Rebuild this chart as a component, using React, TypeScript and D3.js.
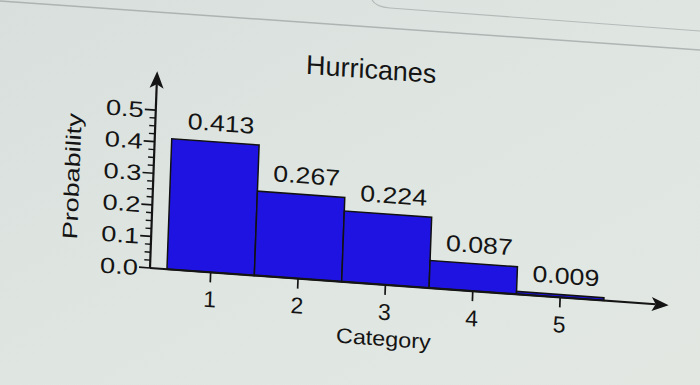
import React from "react";
import * as d3 from "d3";

const categories = [1, 2, 3, 4, 5];
const probabilities = [0.413, 0.267, 0.224, 0.087, 0.009];
const valueLabels = ["0.413", "0.267", "0.224", "0.087", "0.009"];
const yMajorTicks = [0, 0.1, 0.2, 0.3, 0.4, 0.5];
const yTickLabels = ["0.0", "0.1", "0.2", "0.3", "0.4", "0.5"];
const yMinorTicks = d3.range(0, 21).map((i) => i * 0.025).filter((_, i) => i % 4 !== 0);
const titleText = "Hurricanes";
const xLabelText = "Category";
const yLabelText = "Probability";

const W = 700;
const H = 385;
const FONT = "'Liberation Sans', Arial, Helvetica, sans-serif";
const INK = "#141414";
const BLUE = "#1f13e2";

export default function App() {
  const x = d3.scaleLinear().domain([0.5, 5.5]).range([17, 17 + 5 * 87.6]);
  const y = d3.scaleLinear().domain([0, 0.5]).range([0, -158]);
  const bw = x(1.5) - x(0.5);
  const frame = "matrix(0.9974,0.0715,-0.0366,0.9993,150,268)";

  return (
    <svg
      width={W}
      height={H}
      style={{ position: "absolute", left: 0, top: 0, display: "block" }}
      fontFamily={FONT}
    >
      <defs>
        <linearGradient id="bg" x1="0" y1="0" x2="1" y2="1">
          <stop offset="0" stopColor="#d9dfdc" />
          <stop offset="0.5" stopColor="#dfe6e2" />
          <stop offset="1" stopColor="#e2e7e2" />
        </linearGradient>
      </defs>
      <rect x={0} y={0} width={W} height={H} fill="url(#bg)" />
      {/* screen edge lines from the photo */}
      <path d="M0,1 L700,50" stroke="#9aa09e" strokeWidth={1.5} fill="none" opacity={0.7} />
      <path d="M372,0 Q376,7 390,8 L700,31" stroke="#a2a8a6" strokeWidth={1.2} fill="none" opacity={0.7} />

      <g transform={frame}>
        {/* bars */}
        {categories.map((c, i) => (
          <rect
            key={c}
            x={x(c) - bw / 2}
            y={y(probabilities[i])}
            width={bw}
            height={-y(probabilities[i])}
            fill={BLUE}
            stroke="#111"
            strokeWidth={1.5}
          />
        ))}
        {/* value labels */}
        {categories.map((c, i) => (
          <text
            key={"v" + c}
            x={x(c) + 5}
            y={y(probabilities[i]) - 11}
            textAnchor="middle"
            fontSize={23}
            fill={INK}
            textLength={67}
            lengthAdjust="spacingAndGlyphs"
          >
            {valueLabels[i]}
          </text>
        ))}
        {/* y axis */}
        <line x1={0} y1={0} x2={0} y2={-184} stroke={INK} strokeWidth={2.2} />
        <path d="M0,-197 L-7,-180 L0,-184 L7,-180 Z" fill={INK} />
        {yMajorTicks.map((t) => (
          <line key={"ym" + t} x1={-11} x2={0} y1={y(t)} y2={y(t)} stroke={INK} strokeWidth={1.7} />
        ))}
        {yMinorTicks.map((t) => (
          <line key={"yn" + t} x1={-6} x2={0} y1={y(t)} y2={y(t)} stroke={INK} strokeWidth={1.4} />
        ))}
        {yMajorTicks.map((t, i) => (
          <text
            key={"yl" + t}
            x={-12}
            y={y(t) + 8}
            textAnchor="end"
            fontSize={22}
            fill={INK}
            textLength={38}
            lengthAdjust="spacingAndGlyphs"
          >
            {yTickLabels[i]}
          </text>
        ))}
        {/* x axis */}
        <line x1={0} y1={0} x2={507} y2={0} stroke={INK} strokeWidth={2.2} />
        <path d="M520,0 L503,-7 L507,0 L503,7 Z" fill={INK} />
        {categories.map((c) => (
          <line key={"xt" + c} x1={x(c)} x2={x(c)} y1={0} y2={10} stroke={INK} strokeWidth={1.7} />
        ))}
        {categories.map((c) => (
          <text key={"xl" + c} x={x(c)} y={35} textAnchor="middle" fontSize={23} fill={INK}>
            {String(c)}
          </text>
        ))}
        {/* axis titles */}
        <text
          x={x(3)}
          y={61}
          textAnchor="middle"
          fontSize={21}
          fill={INK}
          textLength={95}
          lengthAdjust="spacingAndGlyphs"
        >
          {xLabelText}
        </text>
        <text
          transform={`translate(-74,-86) rotate(-90)`}
          textAnchor="middle"
          fontSize={21}
          fill={INK}
          textLength={126}
          lengthAdjust="spacingAndGlyphs"
        >
          {yLabelText}
        </text>
        <text x={214} y={-205} textAnchor="middle" fontSize={27} fill={INK}>
          {titleText}
        </text>
      </g>
    </svg>
  );
}
